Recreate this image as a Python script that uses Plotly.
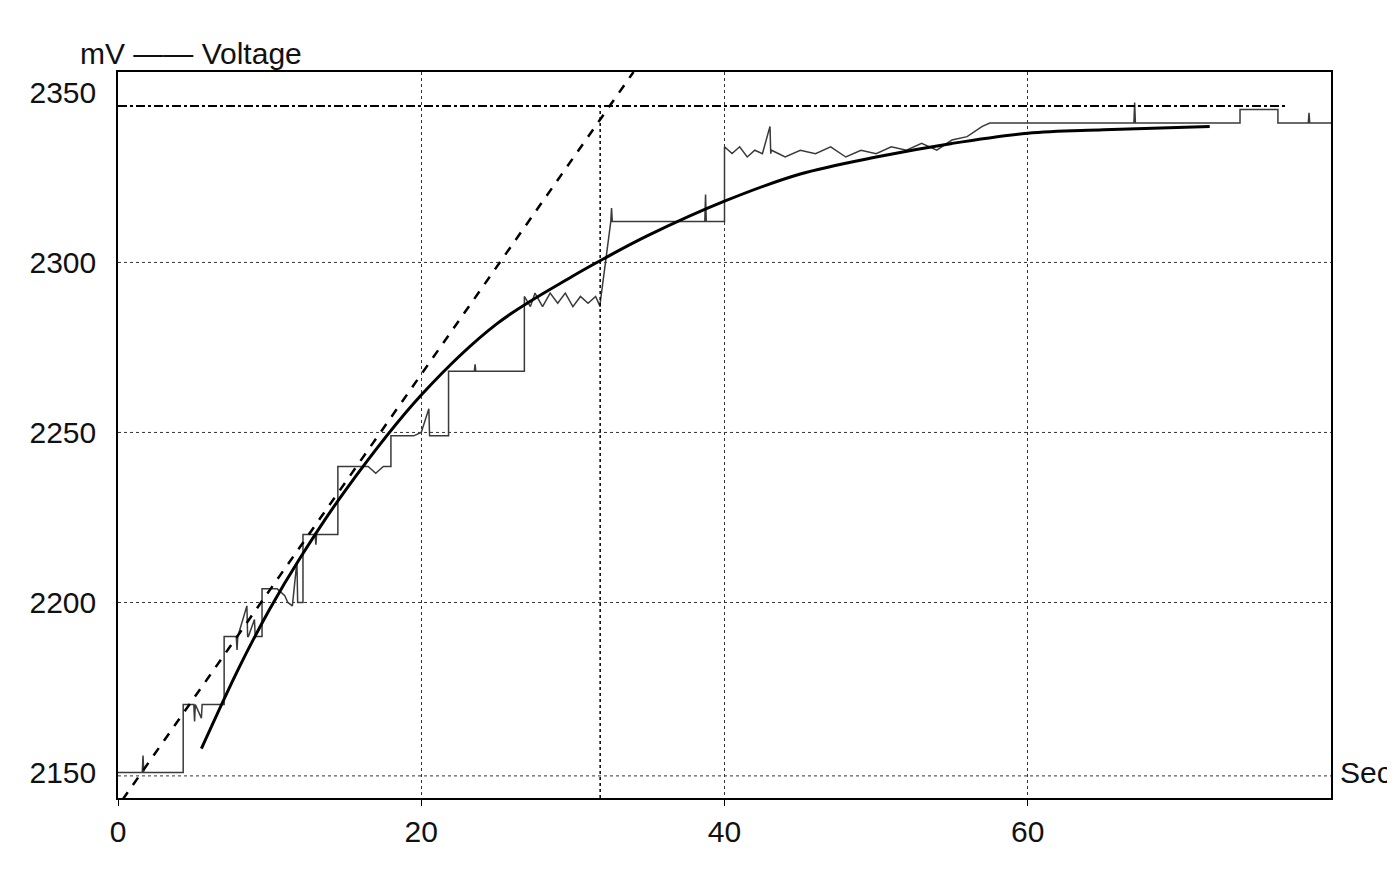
import plotly.graph_objects as go

# Measured voltage (step-like), seconds / mV
t_meas = [0,1.6,1.65,1.7,4.3,4.3,5.0,5.05,5.1,5.5,5.55,5.6,7.0,7.0,7.8,7.85,7.9,8.5,8.55,8.6,9.0,9.05,9.1,9.5,9.5,10.5,11.0,11.2,11.5,11.8,11.85,11.9,12.2,12.2,13.0,13.05,13.1,14.5,14.5,16.5,17.0,17.5,18.0,18.0,19.5,20.0,20.5,20.55,20.6,21.8,21.8,23.5,23.55,23.6,26.8,26.8,27.2,27.5,28.0,28.5,29.0,29.5,30.0,30.5,31.0,31.5,31.8,31.8,32.5,32.55,32.6,38.7,38.75,38.8,40.0,40.0,40.5,41.0,41.5,42.0,42.5,43.0,43.05,43.1,44,45,46,47,48,49,50,51,52,53,54,55,56,57,57.5,67.0,67.05,67.1,74.0,74.0,76.5,76.5,78.5,78.55,78.6,80]
v_meas = [2150,2150,2155,2150,2150,2170,2170,2165,2170,2166,2170,2170,2170,2190,2190,2186,2190,2199,2190,2190,2195,2190,2190,2190,2204,2204,2202,2200,2199,2212,2200,2200,2200,2220,2220,2217,2220,2220,2240,2240,2238,2240,2240,2249,2249,2250,2257,2249,2249,2249,2268,2268,2270,2268,2268,2290,2287,2291,2287,2291,2288,2291,2287,2290,2288,2290,2287,2288,2312,2316,2312,2312,2320,2312,2312,2334,2332,2334,2331,2333,2332,2340,2332,2333,2331,2333,2332,2334,2331,2333,2332,2334,2333,2335,2333,2336,2337,2340,2341,2341,2347,2341,2341,2345,2345,2341,2341,2344,2341,2341]

# Fitted curve
t_fit = [5.5,8,10,12,15,20,25,30,32,35,40,45,50,55,60,65,72]
v_fit = [2157,2181,2198,2213,2233,2261,2282,2296,2301,2308,2318,2326,2331,2335,2338,2339,2340]

# Tangent line
t_tan = [0.3,34]
v_tan = [2142,2356]

v_final = 2346
t_cross = 31.8
y_grid = [2149, 2200, 2250, 2300]

fig = go.Figure()
fig.add_trace(go.Scatter(x=t_meas, y=v_meas, mode="lines", line=dict(color="#3a3a3a", width=1.5)))
fig.add_trace(go.Scatter(x=t_fit, y=v_fit, mode="lines", line=dict(color="black", width=3, shape="spline")))
fig.add_trace(go.Scatter(x=t_tan, y=v_tan, mode="lines", line=dict(color="black", width=2.5, dash="dash"), cliponaxis=False))
fig.add_trace(go.Scatter(x=[0, 77], y=[v_final, v_final], mode="lines", line=dict(color="black", width=2, dash="dashdot")))
fig.add_trace(go.Scatter(x=[t_cross, t_cross], y=[2142.5, v_final], mode="lines", line=dict(color="black", width=1.5, dash="dot")))

for g in y_grid:
    fig.add_shape(type="line", xref="paper", x0=0, x1=1, yref="y", y0=g, y1=g,
                  line=dict(color="#333", width=1, dash="dot"), layer="below")

fig.update_layout(
    width=1395, height=882, showlegend=False,
    plot_bgcolor="white", paper_bgcolor="white",
    margin=dict(l=110, r=72, t=64, b=92, autoexpand=False),
    font=dict(family="Liberation Sans, Arial", size=30, color="#111"),
    xaxis=dict(range=[0, 80], tickvals=[0, 20, 40, 60], showgrid=True, gridcolor="#333",
               griddash="dot", gridwidth=1, zeroline=False, showline=True, linecolor="black",
               mirror=True, linewidth=1.5, ticks="outside", ticklen=6, tickcolor="black",
               automargin=False),
    yaxis=dict(range=[2142.5, 2356], tickvals=[2150, 2200, 2250, 2300, 2350], showgrid=False,
               zeroline=False, showline=True, automargin=False,
               linecolor="black", mirror=True, linewidth=1.5, ticks="", ticklabelstandoff=14),
    annotations=[
        dict(text="mV —— Voltage", xref="paper", yref="paper", x=-0.033, y=1.0,
             xanchor="left", yanchor="bottom", showarrow=False, font=dict(size=30)),
        dict(text="Sec", xref="paper", yref="y", x=1.006, y=2150, xanchor="left",
             yanchor="middle", showarrow=False, font=dict(size=30)),
    ],
)
fig.write_html("out.html")
